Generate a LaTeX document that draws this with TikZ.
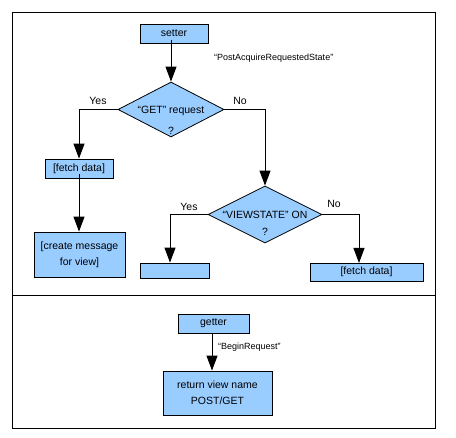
\documentclass[tikz,border=0pt]{standalone}
\usepackage{fontspec}
\setmainfont{Liberation Sans}
\usetikzlibrary{shapes.geometric,arrows.meta}
\definecolor{boxblue}{HTML}{99CCFF}
\tikzset{
  box/.style={draw=black, fill=boxblue, line width=0.8pt, inner sep=0pt, align=center, font=\fontsize{10.5}{16}\selectfont},
  decision/.style={diamond, draw=black, fill=boxblue, line width=0.8pt, inner sep=0pt},
  dtext/.style={font=\fontsize{10.5}{12}\selectfont, inner sep=0pt},
  lbl/.style={font=\fontsize{10.5}{12}\selectfont, inner sep=0pt},
  small/.style={font=\fontsize{9}{10}\selectfont, inner sep=0pt},
  flow/.style={draw=black, line width=0.9pt, -{Triangle[width=11pt,length=15pt]}},
  frame/.style={draw=black, line width=0.9pt}
}
\begin{document}
\begin{tikzpicture}[x=1pt,y=-1pt]
\useasboundingbox (0,0) rectangle (456,438);
\draw[frame] (12,12) rectangle (435,428);
\draw[frame] (12,295) -- (435,295);

% top part
\node[box, minimum width=68pt, minimum height=19pt] (setter) at (174,33.5) {setter};
\node[decision, minimum width=106pt, minimum height=55pt] (d1) at (171,109.5) {};
\node[dtext] (d1a) at (171,111) {``GET'' request};
\node[dtext] (d1b) at (171,130.5) {?};
\node[box, minimum width=68pt, minimum height=19pt] (f1) at (79,168.5) {[fetch data]};
\node[box, minimum width=91pt, minimum height=45pt] (cm) at (79.5,254.5) {[create message\\for view]};
\node[decision, minimum width=114pt, minimum height=57pt] (d2) at (265,214.5) {};
\node[dtext] (d2a) at (265,215) {``VIEWSTATE'' ON};
\node[dtext] (d2b) at (265,232) {?};
\node[box, minimum width=69pt, minimum height=15pt] (empty) at (174.5,270.5) {};
\node[box, minimum width=113pt, minimum height=18pt] (f2) at (366.5,272) {[fetch data]};

\node[small, anchor=west] (l1) at (214,58) {``PostAcquireRequestedState''};
\node[lbl] (yes1) at (98,101) {Yes};
\node[lbl] (no1) at (240,101) {No};
\node[lbl] (yes2) at (189,207) {Yes};
\node[lbl] (no2) at (334,204) {No};

\draw[flow] ([yshift=3pt]setter.south -| d1.north) -- (d1.north);
\draw[flow] (d1.west) -| (f1.north);
\draw[flow] (d1.east) -| (d2.north);
\draw[flow] ([yshift=4pt]f1.south) -- (f1.south |- cm.north);
\draw[flow] (d2.west) -| (empty.north -| 170,0);
\draw[flow] (d2.east) -| (359,263) coordinate (f2n);

% bottom part
\node[box, minimum width=71pt, minimum height=19pt] (getter) at (213.5,323.5) {getter};
\node[box, minimum width=109pt, minimum height=44pt] (ret) at (217.5,393) {return view name\\POST/GET};
\node[small, anchor=west] (l2) at (218,347) {``BeginRequest''};
\draw[flow] (getter.south -| 212,0) -- (ret.north -| 212,0);
\end{tikzpicture}
\end{document}
